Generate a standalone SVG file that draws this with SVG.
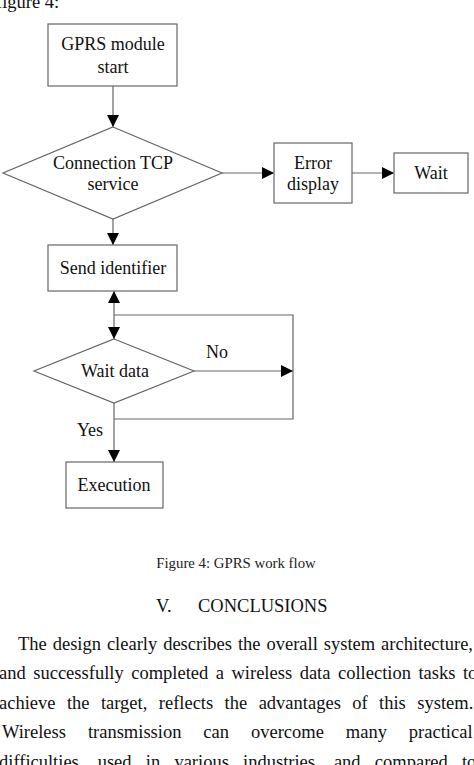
<svg xmlns="http://www.w3.org/2000/svg" width="474" height="765" viewBox="0 0 474 765">
<style>
.box{fill:#fff;stroke:#666;stroke-width:1.2}
.ln{fill:none;stroke:#666;stroke-width:1.2}
.t{font-family:"Liberation Serif","Times New Roman",serif;font-size:18px;fill:#111;text-anchor:middle}
.cap{font-family:"Liberation Serif","Times New Roman",serif;font-size:14.8px;fill:#222;text-anchor:middle}
.h{font-family:"Liberation Serif","Times New Roman",serif;font-size:18.5px;fill:#111}
.p{font-family:"Liberation Serif","Times New Roman",serif;font-size:18.5px;fill:#111}
</style>
<defs>
<marker id="a" markerUnits="userSpaceOnUse" markerWidth="12" markerHeight="12" refX="12" refY="6" orient="auto">
<path d="M0,0 L12,6 L0,12 z" fill="#000"/>
</marker>
</defs>
<rect width="474" height="765" fill="#fff"/>
<text class="p" x="-4" y="8">figure 4:</text>
<g id="connectors">
<line class="ln" x1="113" y1="86" x2="113" y2="127" marker-end="url(#a)"/>
<line class="ln" x1="222" y1="173" x2="274" y2="173" marker-end="url(#a)"/>
<line class="ln" x1="352" y1="173" x2="394" y2="173" marker-end="url(#a)"/>
<line class="ln" x1="113" y1="219" x2="113" y2="245" marker-end="url(#a)"/>
<line class="ln" x1="114" y1="315" x2="114" y2="291" marker-end="url(#a)"/>
<polyline class="ln" points="114,315 293,315 293,419 114,419"/>
<line class="ln" x1="114" y1="315" x2="114" y2="339" marker-end="url(#a)"/>
<line class="ln" x1="194" y1="371" x2="293" y2="371" marker-end="url(#a)"/>
<line class="ln" x1="114" y1="403" x2="114" y2="462" marker-end="url(#a)"/>
<text class="t" x="217" y="358">No</text>
<text class="t" x="90" y="436">Yes</text>
</g>
<g id="start">
<rect class="box" x="48" y="24" width="129" height="62"/>
<text class="t" x="113" y="50">GPRS module</text>
<text class="t" x="113" y="73">start</text>
</g>
<g id="tcp">
<polygon class="box" points="113,127 222,173 113,219 3,173"/>
<text class="t" x="113" y="169">Connection TCP</text>
<text class="t" x="113" y="190">service</text>
</g>
<g id="error">
<rect class="box" x="274" y="143" width="78" height="60"/>
<text class="t" x="313" y="169">Error</text>
<text class="t" x="313" y="190">display</text>
</g>
<g id="wait">
<rect class="box" x="394" y="153" width="74" height="40"/>
<text class="t" x="431" y="179">Wait</text>
</g>
<g id="send">
<rect class="box" x="48" y="245" width="129" height="46"/>
<text class="t" x="113" y="274">Send identifier</text>
</g>
<g id="waitdata">
<polygon class="box" points="114,339 194,371 114,403 34,371"/>
<text class="t" x="115" y="377">Wait data</text>
</g>
<g id="exec">
<rect class="box" x="66" y="462" width="97" height="46"/>
<text class="t" x="114" y="491">Execution</text>
</g>
<text class="cap" x="236" y="568">Figure 4: GPRS work flow</text>
<text class="h" x="156" y="612">V.</text>
<text class="h" x="198" y="612">CONCLUSIONS</text>
<text class="p" x="18" y="650" word-spacing="1.3">The design clearly describes the overall system architecture,</text>
<text class="p" x="-1" y="679" word-spacing="2.9">and successfully completed a wireless data collection tasks to</text>
<text class="p" x="-1" y="709" word-spacing="6.8">achieve the target, reflects the advantages of this system.</text>
<text class="p" x="2" y="738" word-spacing="17.3">Wireless transmission can overcome many practical</text>
<text class="p" x="-1" y="768" word-spacing="9.6">difficulties, used in various industries, and compared to</text>
</svg>
